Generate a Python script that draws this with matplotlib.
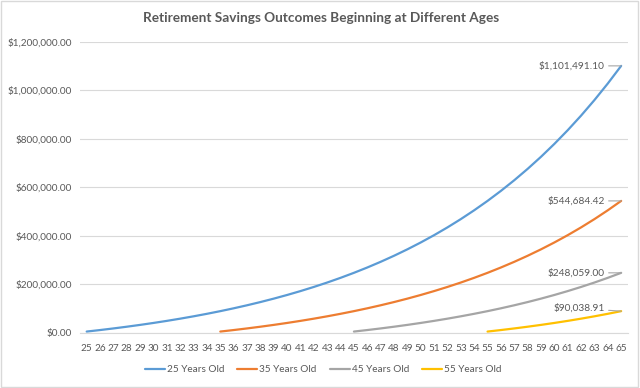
import matplotlib
matplotlib.use("Agg")
import matplotlib.pyplot as plt
import numpy as np

ages = list(range(25, 66))
growth = [5859, 12099, 18744, 25821, 33358, 41385, 49934, 59039, 68736, 79063,
          90038.91, 101750, 114223, 127506, 141653, 156719, 172765, 189854, 208054, 227437,
          248059.00, 270042, 293454, 318388, 344942, 373222, 403340, 435416, 469577, 505959,
          544684.42, 585947, 629893, 676695, 726539, 779623, 836157, 896366, 960489, 1028780,
          1101491.10]

series_names = ["25 Years Old", "35 Years Old", "45 Years Old", "55 Years Old"]
start_ages = [25, 35, 45, 55]
final_labels = ["$1,101,491.10", "$544,684.42", "$248,059.00", "$90,038.91"]
colors = ["#5B9BD5", "#ED7D31", "#A5A5A5", "#FFC000"]
y_ticks = [0, 200000, 400000, 600000, 800000, 1000000, 1200000]

plt.rcParams['font.family'] = ['Lato', 'DejaVu Sans']
text_color = "#595959"

fig = plt.figure(figsize=(6.4, 3.88), dpi=100)
ax = fig.add_axes([0.125, 0.1418, 0.856, 0.75])

x = np.arange(len(ages))
offsets = [0, 0, 0, 2]
for name, s, c, lab, off in zip(series_names, start_ages, colors, final_labels, offsets):
    n = 65 - s + 1
    vals = [np.nan] * (len(ages) - n) + growth[:n]
    ax.plot(x, vals, color=c, lw=1.6, label=name, solid_capstyle='round')
    ax.annotate(lab, xy=(x[-1], vals[-1]), xytext=(-12, off), textcoords='offset points',
                ha='right', va='center', fontsize=7.3, color=text_color,
                arrowprops=dict(arrowstyle='-', color='#A6A6A6', lw=0.8,
                                shrinkA=1, shrinkB=0))

ax.set_xlim(-0.5, len(ages) - 0.5)
ax.set_ylim(0, 1200000)
ax.set_yticks(y_ticks)
ax.set_yticklabels(["${:,.2f}".format(v) for v in y_ticks])
ax.set_xticks(x)
ax.set_xticklabels([str(a) for a in ages])
ax.tick_params(axis='both', length=0, labelsize=7.2, colors=text_color)
ax.tick_params(axis='x', pad=8)
ax.tick_params(axis='y', pad=6)
ax.grid(axis='y', color='#D9D9D9', lw=0.8)
ax.set_axisbelow(True)
for sp in ['top', 'left', 'right']:
    ax.spines[sp].set_visible(False)
ax.spines['bottom'].set_color('#D9D9D9')
ax.spines['bottom'].set_linewidth(0.8)

fig.text(0.502, 0.953, "Retirement Savings Outcomes Beginning at Different Ages",
         ha='center', va='center', fontsize=9.8, fontweight='bold', color=text_color)

leg = fig.legend(loc='center', bbox_to_anchor=(0.505, 0.047), ncol=4, frameon=False,
                 fontsize=7.2, handlelength=2.0, handletextpad=0.2, columnspacing=1.3,
                 labelcolor=text_color)

fig.patches.append(plt.Rectangle((0.002, 0.003), 0.995, 0.994, transform=fig.transFigure,
                                 fill=False, edgecolor='#D9D9D9', lw=1))

fig.savefig("out.png", dpi=100, facecolor='white')
